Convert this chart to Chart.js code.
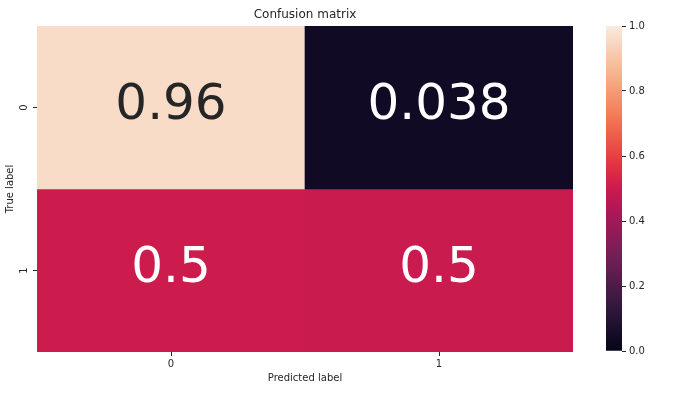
<!DOCTYPE html>
<html>
<head>
<meta charset="utf-8">
<script src="https://cdn.jsdelivr.net/npm/chart.js@4"></script>
<style>
  body { margin: 0; background: #fff; }
  #wrap { position: relative; width: 681px; height: 398px; }
  canvas { position: absolute; top: 0; }
</style>
</head>
<body>
<div id="wrap">
  <canvas id="matrix" width="681" height="398" style="left:0"></canvas>
  <canvas id="colorbar" width="81" height="398" style="left:600px"></canvas>
</div>
<script>
// data
var predictedLabels = ['0', '1'];
var trueLabels = ['0', '1'];
var row0 = [0.962, 0.038];
var row1 = [0.503, 0.497];
var cbTicks = [0, 0.2, 0.4, 0.6, 0.8, 1.0];

// rocket colormap (sampled stops)
var rocketStops = [
  [0.0, [3, 5, 26]],
  [1 / 7, [53, 25, 62]],
  [2 / 7, [112, 31, 87]],
  [3 / 7, [173, 23, 89]],
  [0.5, [203, 27, 79]],
  [4 / 7, [225, 51, 66]],
  [5 / 7, [243, 118, 81]],
  [6 / 7, [246, 180, 143]],
  [1.0, [250, 235, 221]]
];

function rocketRgb(v) {
  v = Math.max(0, Math.min(1, v));
  for (var i = 1; i < rocketStops.length; i++) {
    if (v <= rocketStops[i][0]) {
      var a = rocketStops[i - 1], b = rocketStops[i];
      var t = (v - a[0]) / (b[0] - a[0]);
      return a[1].map(function (c, k) { return Math.round(c + (b[1][k] - c) * t); });
    }
  }
  return rocketStops[rocketStops.length - 1][1];
}
function rocket(v) {
  var c = rocketRgb(v);
  return 'rgb(' + c[0] + ',' + c[1] + ',' + c[2] + ')';
}
function textColor(v) {
  var c = rocketRgb(v).map(function (x) {
    x = x / 255;
    return x <= 0.03928 ? x / 12.92 : Math.pow((x + 0.055) / 1.055, 2.4);
  });
  var lum = 0.2126 * c[0] + 0.7152 * c[1] + 0.0722 * c[2];
  return lum > 0.408 ? '#262626' : '#ffffff';
}
function fmt2g(v) {
  return String(Number(v.toPrecision(2)));
}

Chart.defaults.font.family = 'DejaVu Sans';
Chart.defaults.color = '#262626';

// draw the numbers in the cells
var annotate = {
  id: 'annotate',
  afterDatasetsDraw: function (chart) {
    var ctx = chart.ctx;
    ctx.save();
    ctx.font = '50px "DejaVu Sans"';
    ctx.textAlign = 'center';
    ctx.textBaseline = 'middle';
    chart.data.datasets.forEach(function (ds, i) {
      chart.getDatasetMeta(i).data.forEach(function (bar, j) {
        var p = bar.getCenterPoint();
        var v = ds.values[j];
        ctx.fillStyle = textColor(v);
        ctx.fillText(fmt2g(v), p.x, p.y - 1);
      });
    });
    ctx.restore();
  }
};

var rows = [row0, row1];
var matrixData = {
  labels: predictedLabels,
  datasets: rows.map(function (vals, r) {
    return {
      label: 'row ' + trueLabels[r],
      data: vals.map(function () { return [r, r + 1]; }),
      values: vals,
      backgroundColor: vals.map(rocket),
      borderWidth: 0,
      borderSkipped: false,
      grouped: false,
      barPercentage: 1,
      categoryPercentage: 1
    };
  })
};

var matrixChart = new Chart(document.getElementById('matrix').getContext('2d'), {
  type: 'bar',
  data: matrixData,
  options: {
    responsive: false,
    animation: false,
    events: [],
    layout: { padding: { left: 0, right: 108, top: 0, bottom: 10 } },
    plugins: {
      legend: { display: false },
      tooltip: { enabled: false },
      title: {
        display: true,
        text: 'Confusion matrix',
        fullSize: false,
        color: '#262626',
        font: { size: 12, weight: 'normal' },
        padding: { top: 8, bottom: 3.6 }
      }
    },
    scales: {
      x: {
        type: 'category',
        offset: true,
        afterFit: function (s) { s.height = 36; },
        grid: { offset: false, drawOnChartArea: false, drawTicks: true, tickLength: 4, color: '#262626' },
        border: { display: false },
        ticks: { font: { size: 10 }, padding: 2, maxRotation: 0 },
        title: { display: true, text: 'Predicted label', font: { size: 10 }, padding: { top: 2 } }
      },
      y: {
        type: 'linear',
        min: 0,
        max: 2,
        reverse: true,
        afterBuildTicks: function (s) {
          s.ticks = trueLabels.map(function (_, i) { return { value: i + 0.5 }; });
        },
        afterFit: function (s) { s.width = 37; },
        grid: { drawOnChartArea: false, drawTicks: true, tickLength: 4, color: '#262626' },
        border: { display: false },
        ticks: {
          font: { size: 10 },
          padding: 5,
          crossAlign: 'center',
          minRotation: 90,
          maxRotation: 90,
          callback: function (v) { return trueLabels[Math.floor(v)]; }
        },
        title: { display: true, text: 'True label', font: { size: 10 }, padding: { bottom: 2 } }
      }
    }
  },
  plugins: [annotate]
});

// colorbar
var colorbarChart = new Chart(document.getElementById('colorbar').getContext('2d'), {
  type: 'bar',
  data: {
    labels: ['scale'],
    datasets: [{
      data: [[0, 1]],
      borderWidth: 0,
      borderSkipped: false,
      barPercentage: 1,
      categoryPercentage: 1,
      backgroundColor: function (c) {
        var chart = c.chart;
        if (!chart.chartArea) return 'transparent';
        var y = chart.scales.y;
        var g = chart.ctx.createLinearGradient(0, y.getPixelForValue(0), 0, y.getPixelForValue(1));
        for (var i = 0; i <= 50; i++) g.addColorStop(i / 50, rocket(i / 50));
        return g;
      }
    }]
  },
  options: {
    responsive: false,
    animation: false,
    events: [],
    layout: { padding: { left: 6, right: 0, top: 26, bottom: 47 } },
    plugins: { legend: { display: false }, tooltip: { enabled: false } },
    scales: {
      x: { display: false, offset: true },
      y: {
        position: 'right',
        min: 0,
        max: 1,
        afterBuildTicks: function (s) {
          s.ticks = cbTicks.map(function (v) { return { value: v }; });
        },
        afterFit: function (s) { s.width = 59; },
        grid: { drawOnChartArea: false, drawTicks: true, tickLength: 4, color: '#262626' },
        border: { display: false },
        ticks: {
          font: { size: 10 },
          padding: 3,
          callback: function (v) { return v.toFixed(1); }
        }
      }
    }
  }
});
</script>
</body>
</html>
